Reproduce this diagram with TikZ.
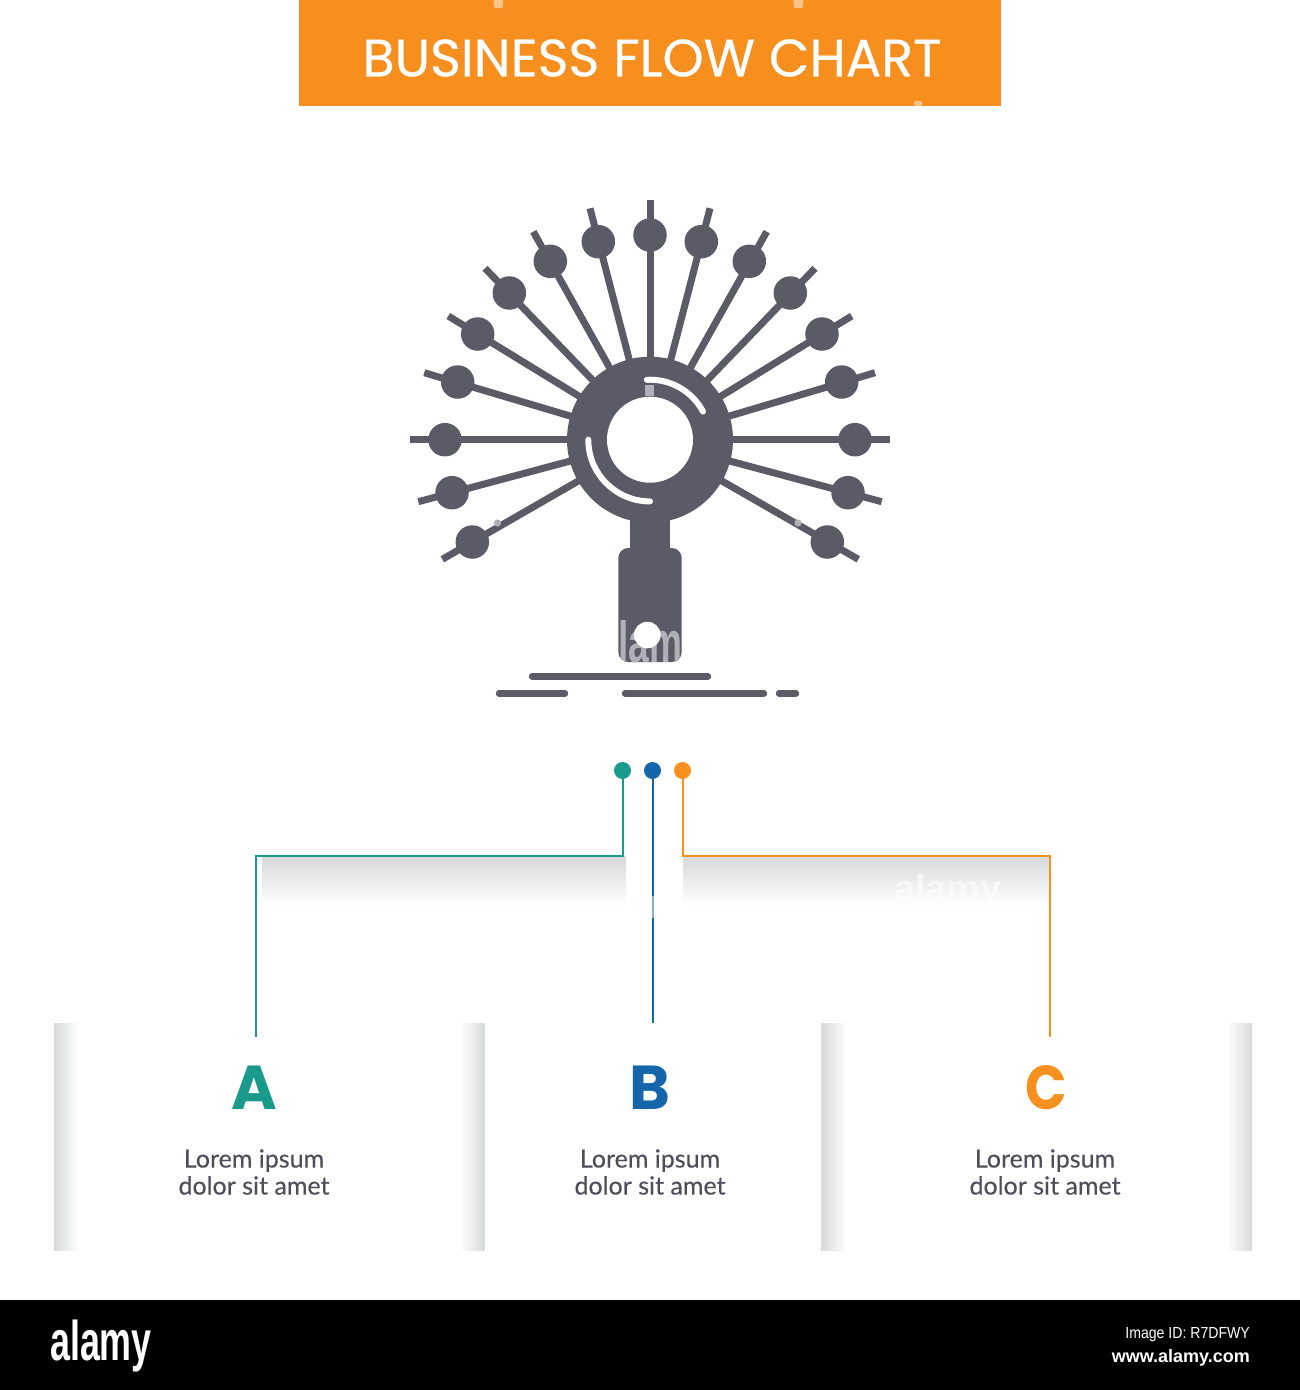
\documentclass[tikz,border=0pt]{standalone}
\usepackage{fontspec}
\setmainfont{Lato}
\newfontfamily\titlefont{Poppins}
\newfontfamily\titlemed[FakeBold=0.45]{Poppins}
\newfontfamily\loremfont[FakeBold=0.2]{Lato}
\newfontfamily\footfont{Liberation Sans}
\usetikzlibrary{calc}
\definecolor{icongray}{HTML}{5B5A67}
\definecolor{ghostgray}{HTML}{B0B0B8}
\definecolor{tealc}{HTML}{1A9A8A}
\definecolor{bluec}{HTML}{1565AD}
\definecolor{paleblue}{HTML}{7FB0DA}
\definecolor{orangec}{HTML}{F7901E}
\definecolor{bannerc}{HTML}{F78F1E}
\definecolor{peach}{HTML}{F9C48A}
\definecolor{shadec}{HTML}{D8DADA}
\definecolor{textc}{HTML}{4E4E5A}
\tikzset{
  x=1pt,y=-1pt,
  bubble/.style={circle,fill=icongray,draw=none,minimum size=33.5pt,inner sep=0pt,outer sep=0pt},
  hubdisc/.style={circle,fill=icongray,draw=none,minimum size=166pt,inner sep=0pt,outer sep=0pt},
  hubhole/.style={circle,fill=white,draw=none,minimum size=86pt,inner sep=0pt,outer sep=0pt},
  spoke/.style={draw=icongray,line width=7pt},
  glint/.style={draw=white,line width=6pt,line cap=round},
  groundline/.style={draw=icongray,line width=6.4pt,line cap=round},
  pin/.style={circle,draw=none,minimum size=17pt,inner sep=0pt,outer sep=0pt},
  wire/.style={line width=2pt,line join=miter},
  letter/.style={font=\titlefont\fontsize{62}{62}\selectfont\bfseries,inner sep=0pt},
  lorem/.style={font=\loremfont\fontsize{25}{27}\selectfont,text=textc,align=center,inner sep=0pt},
  smudge/.style={fill=ghostgray,draw=none},
  bannermark/.style={fill=peach,draw=none,rounded corners=1.5pt},
}
\begin{document}
\begin{tikzpicture}
\useasboundingbox (0,0) rectangle (1300,1390);
\fill[white] (0,0) rectangle (1300,1390);
% banner
\fill[bannerc] (299,0) rectangle (1001,106);
\fill[bannermark] (493.5,-3) rectangle (503,8);
\fill[bannermark] (793.5,-3) rectangle (803,8);
\fill[bannermark] (914,101) rectangle (922,106);
\node[font=\titlemed\fontsize{52.5}{52.5}\selectfont,text=white,inner sep=0pt] (title) at (652,58) {BUSINESS FLOW CHART};
% icon
\coordinate (hubc) at (650,439.7);
\foreach \i/\nx/\ny/\ex/\ey in {
 1/650/235/650/200,
 2/598.3/241.7/590/208.3, 3/701.3/241.7/710/208.3,
 4/550.3/261.3/533.3/231.7, 5/749.3/261.3/766.7/231.7,
 6/509.3/293/485/268.3, 7/790.3/293/815/268.3,
 8/477.7/334/448.3/316, 9/822/334/851.7/316,
 10/457.7/382/424.3/372.7, 11/841.7/382/875/372.7,
 12/445/439.7/410/439.7, 13/855/439.7/890/439.7,
 14/452/492.7/418.3/501.7, 15/848/492.7/881.7/501.7,
 16/472.3/542/442.3/559.3, 17/827.3/542/858.3/559.3}{
  \coordinate (tip\i) at (\ex,\ey);
  \draw[spoke] (hubc) -- (tip\i);
  \node[bubble] (bub\i) at (\nx,\ny) {};
}
\fill[smudge] (497.5,523) circle[radius=3.6pt];
\fill[smudge] (798,523) circle[radius=3.6pt];
\fill[icongray] (630,500) rectangle (670,560);
\fill[icongray,rounded corners=10pt] (618.3,548) rectangle (681.7,662);
\begin{scope}
  \clip[rounded corners=10pt] (618.3,548) rectangle (681.7,662);
  \node[font=\footfont\fontsize{58}{58}\selectfont\bfseries,text=ghostgray,anchor=base west,inner sep=0pt,xscale=0.64] (ghost) at (618,662) {lam};
\end{scope}
\node[hubdisc] (hub) at (hubc) {};
\node[hubhole] (hole) at (hubc) {};
\node[circle,fill=white,minimum size=26.6pt,inner sep=0pt] (keyhole) at (647.3,635) {};
\fill[smudge] (644.5,385) rectangle (654,396);
\draw[glint] (hubc) ++(93:60pt) arc[start angle=93,end angle=28,radius=60pt];
\draw[glint] (588.3,439.7) arc[start angle=180,end angle=270,radius=61.7pt];
\draw[groundline] (532,676.3) -- (708,676.3);
\draw[groundline] (499,693.3) -- (565,693.3);
\draw[groundline] (625,693.3) -- (764,693.3);
\draw[groundline] (779,693.3) -- (796,693.3);
% shaded bands
\shade[top color=shadec,bottom color=white] (262,856) rectangle (626,906);
\shade[top color=shadec,bottom color=white] (683,856) rectangle (1049,906);
\node[font=\footfont\fontsize{38}{38}\selectfont\bfseries,text=white,opacity=.55,inner sep=0pt] (ghost2) at (948,892) {alamy};
% panels
\shade[left color=shadec,right color=white] (53.8,1023) rectangle (79.5,1250);
\shade[left color=white,right color=shadec] (459,1023) rectangle (484.6,1250);
\shade[left color=shadec,right color=white] (821,1023) rectangle (847,1250);
\shade[left color=white,right color=shadec] (1226.5,1023) rectangle (1252,1250);
% connectors
\node[pin,fill=tealc] (pa) at (622.5,770.5) {};
\node[pin,fill=bluec] (pb) at (652.5,770.5) {};
\node[pin,fill=orangec] (pc) at (682.5,770.5) {};
\coordinate (ea) at (255.5,1036.5);
\coordinate (eb) at (652.5,1023);
\coordinate (ec) at (1049.5,1036.5);
\coordinate (pale1) at (652.5,896);
\coordinate (pale2) at (652.5,918);
\draw[wire,tealc] (pa.center) |- (255.5,855.7) -- (ea);
\draw[wire,bluec] (pb.center) -- (eb);
\draw[wire,paleblue] (pale1) -- (pale2);
\draw[wire,orangec] (pc.center) |- (1049.5,855.7) -- (ec);
% labels
\node[letter,text=tealc] (la) at (254,1088) {A};
\node[letter,text=bluec] (lb) at (650,1088) {B};
\node[letter,text=orangec,xscale=0.88] (lc) at (1046,1088) {C};
\node[lorem] (ta) at (254,1172) {Lorem ipsum\\dolor sit amet};
\node[lorem] (tb) at (650,1172) {Lorem ipsum\\dolor sit amet};
\node[lorem] (tc) at (1045,1172) {Lorem ipsum\\dolor sit amet};
% footer
\fill[black] (0,1300) rectangle (1300,1390);
\node[font=\footfont\fontsize{56}{56}\selectfont\bfseries,text=white,anchor=base west,inner sep=0pt,xscale=0.64] (brand) at (50,1360) {alamy};
\node[font=\footfont\fontsize{16}{16}\selectfont,text=white,anchor=base east,inner sep=0pt,xscale=0.88] (imgid) at (1250,1338) {Image ID: R7DFWY};
\node[font=\footfont\fontsize{18}{18}\selectfont\bfseries,text=white,anchor=base east,inner sep=0pt] (www) at (1250,1362) {www.alamy.com};
\end{tikzpicture}
\end{document}
